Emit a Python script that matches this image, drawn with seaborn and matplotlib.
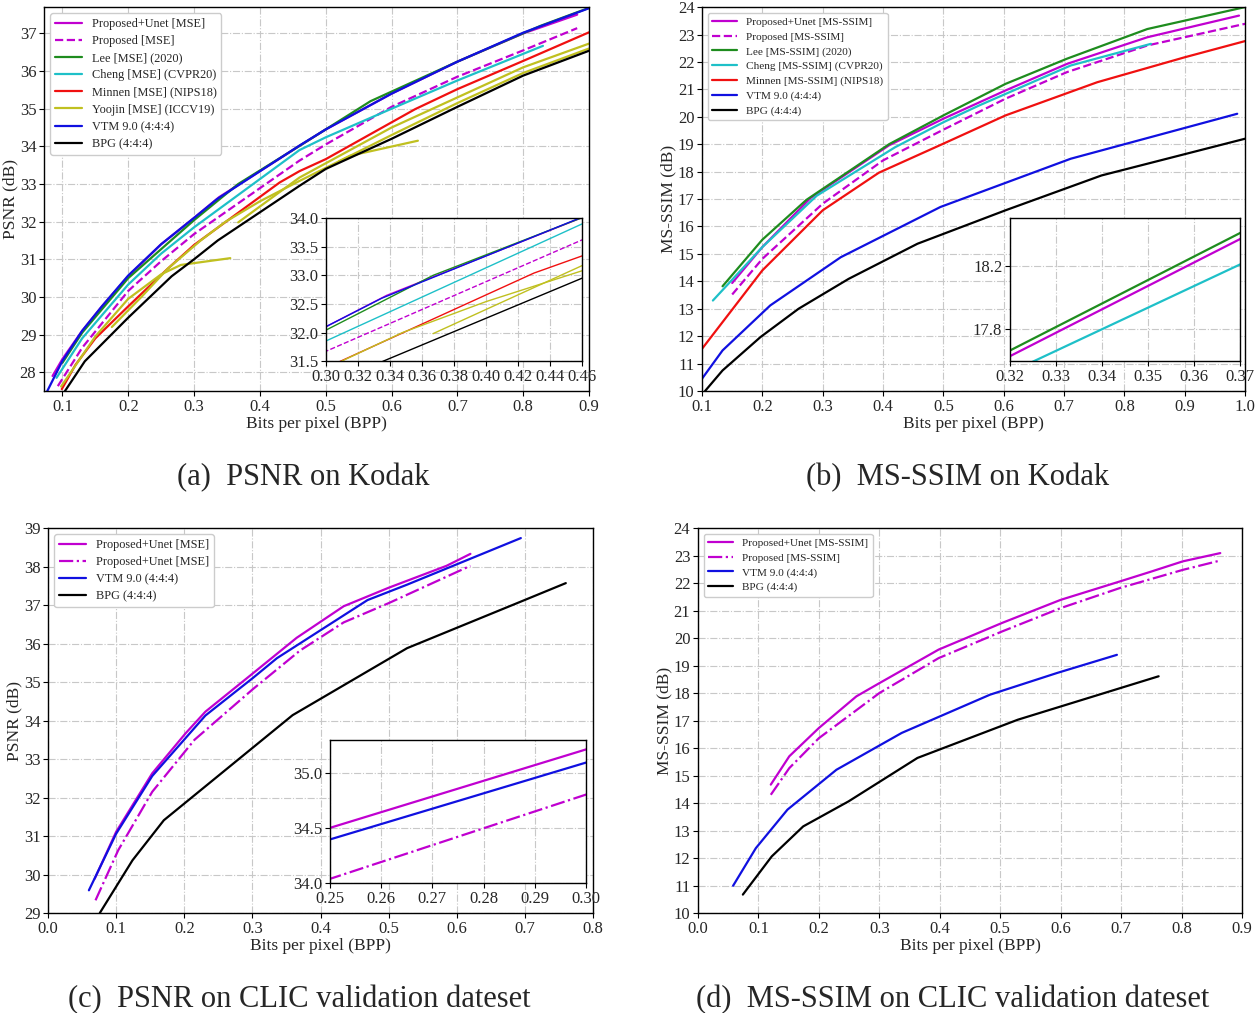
import numpy as np
import pandas as pd
import seaborn as sns
import matplotlib.pyplot as plt

# ---------- (a) PSNR on Kodak ----------
a_unet_x = [0.085, 0.1, 0.13, 0.16, 0.2, 0.25, 0.3, 0.338, 0.46, 0.5, 0.6, 0.7, 0.8, 0.882]
a_unet_y = [27.9, 28.35, 29.1, 29.75, 30.55, 31.4, 32.1, 32.65, 34.01, 34.45, 35.4, 36.25, 37.0, 37.5]
a_prop_x = [0.093, 0.13, 0.2, 0.25, 0.3, 0.46, 0.5, 0.6, 0.7, 0.8, 0.882]
a_prop_y = [27.63, 28.65, 30.16, 30.95, 31.67, 33.62, 34.05, 35.05, 35.85, 36.55, 37.14]
a_lee_x = [0.1, 0.13, 0.2, 0.3, 0.367, 0.46, 0.568, 0.7, 0.826, 0.9]
a_lee_y = [28.25, 29.05, 30.5, 32.04, 33.0, 34.01, 35.2, 36.25, 37.2, 37.68]
a_cheng_x = [0.091, 0.13, 0.2, 0.25, 0.3, 0.46, 0.5, 0.6, 0.7, 0.83]
a_cheng_y = [27.85, 28.9, 30.33, 31.15, 31.85, 33.9, 34.24, 35.0, 35.75, 36.67]
a_minnen_x = [0.099, 0.12, 0.15, 0.2, 0.26, 0.3, 0.43, 0.46, 0.5, 0.636, 0.7, 0.8, 0.9]
a_minnen_y = [27.55, 28.2, 28.9, 29.75, 30.75, 31.38, 33.04, 33.34, 33.66, 34.99, 35.52, 36.27, 37.03]
a_yoojin1_x = [0.098, 0.15, 0.2, 0.25, 0.28, 0.355]
a_yoojin1_y = [27.62, 28.95, 29.95, 30.6, 30.85, 31.03]
a_yoojin2_x = [0.175, 0.22, 0.26, 0.31, 0.348, 0.4, 0.46, 0.537, 0.64]
a_yoojin2_y = [29.2, 30.0, 30.75, 31.5, 32.0, 32.54, 33.08, 33.75, 34.15]
a_yoojin3_x = [0.367, 0.46, 0.6, 0.7, 0.8, 0.9]
a_yoojin3_y = [31.98, 33.17, 34.5, 35.3, 36.1, 36.73]
a_yoojin4_x = [0.52, 0.6, 0.7, 0.8, 0.9]
a_yoojin4_y = [33.6, 34.3, 35.15, 35.95, 36.6]
a_vtm_x = [0.077, 0.1, 0.13, 0.16, 0.2, 0.25, 0.3, 0.335, 0.46, 0.5, 0.6, 0.7, 0.8, 0.9]
a_vtm_y = [27.5, 28.3, 29.1, 29.75, 30.57, 31.4, 32.1, 32.6, 34.02, 34.45, 35.4, 36.25, 37.02, 37.67]
a_bpg_x = [0.1035, 0.134, 0.2, 0.266, 0.3, 0.336, 0.46, 0.5, 0.6, 0.7, 0.8, 0.9]
a_bpg_y = [27.49, 28.29, 29.45, 30.55, 31.0, 31.5, 32.95, 33.4, 34.2, 35.05, 35.88, 36.54]

# ---------- (b) MS-SSIM on Kodak ----------
b_unet_x = [0.15, 0.2, 0.28, 0.41, 0.5, 0.603, 0.705, 0.838, 0.99]
b_unet_y = [13.94, 15.25, 17.04, 18.96, 19.93, 20.96, 21.93, 22.9, 23.69]
b_prop_x = [0.15, 0.2, 0.3, 0.4, 0.5, 0.603, 0.705, 0.838, 1.0]
b_prop_y = [13.52, 14.82, 16.83, 18.41, 19.53, 20.66, 21.63, 22.6, 23.39]
b_lee_x = [0.134, 0.2, 0.273, 0.41, 0.5, 0.603, 0.705, 0.838, 1.0]
b_lee_y = [13.82, 15.52, 16.97, 19.0, 20.05, 21.2, 22.12, 23.2, 24.0]
b_cheng_x = [0.118, 0.2, 0.29, 0.42, 0.5, 0.559, 0.711, 0.844]
b_cheng_y = [13.3, 15.25, 17.12, 18.89, 19.8, 20.41, 21.87, 22.66]
b_minnen_x = [0.1, 0.2, 0.3, 0.393, 0.5, 0.603, 0.755, 0.9, 1.0]
b_minnen_y = [11.54, 14.4, 16.59, 17.96, 19.02, 20.05, 21.26, 22.17, 22.76]
b_vtm_x = [0.1, 0.134, 0.213, 0.33, 0.495, 0.711, 0.987]
b_vtm_y = [10.45, 11.48, 13.12, 14.88, 16.71, 18.47, 20.11]
b_bpg_x = [0.105, 0.134, 0.197, 0.26, 0.343, 0.457, 0.603, 0.762, 1.0]
b_bpg_y = [10.0, 10.75, 11.97, 13.0, 14.09, 15.37, 16.59, 17.86, 19.2]

# ---------- (c) PSNR on CLIC ----------
c_unet_x = [0.0685, 0.1, 0.153, 0.202, 0.231, 0.301, 0.365, 0.434, 0.5, 0.585, 0.62]
c_unet_y = [29.89, 31.11, 32.63, 33.67, 34.23, 35.23, 36.15, 36.97, 37.45, 38.02, 38.33]
c_prop_x = [0.0697, 0.103, 0.153, 0.215, 0.301, 0.37, 0.434, 0.5, 0.62]
c_prop_y = [29.33, 30.63, 32.15, 33.5, 34.82, 35.82, 36.55, 37.05, 38.02]
c_vtm_x = [0.06, 0.1, 0.153, 0.231, 0.301, 0.336, 0.469, 0.527, 0.694]
c_vtm_y = [29.59, 31.06, 32.56, 34.13, 35.11, 35.62, 37.13, 37.53, 38.74]
c_bpg_x = [0.076, 0.124, 0.17, 0.359, 0.527, 0.694, 0.76]
c_bpg_y = [29.0, 30.37, 31.41, 34.14, 35.88, 37.09, 37.57]

# ---------- (d) MS-SSIM on CLIC ----------
d_unet_x = [0.1204, 0.151, 0.2, 0.262, 0.3, 0.398, 0.503, 0.6, 0.698, 0.75, 0.802, 0.864]
d_unet_y = [14.67, 15.7, 16.73, 17.88, 18.36, 19.58, 20.55, 21.39, 22.06, 22.42, 22.79, 23.09]
d_prop_x = [0.1204, 0.151, 0.2, 0.3, 0.398, 0.503, 0.6, 0.698, 0.802, 0.864]
d_prop_y = [14.3, 15.27, 16.36, 18.0, 19.27, 20.24, 21.09, 21.82, 22.48, 22.82]
d_vtm_x = [0.058, 0.0957, 0.148, 0.229, 0.337, 0.483, 0.594, 0.693]
d_vtm_y = [10.99, 12.36, 13.76, 15.21, 16.55, 17.94, 18.73, 19.39]
d_bpg_x = [0.0742, 0.122, 0.174, 0.249, 0.363, 0.529, 0.762]
d_bpg_y = [10.67, 12.06, 13.15, 14.06, 15.64, 17.03, 18.61]

sns.set_theme(style="white")
plt.rcParams["font.family"] = ["Liberation Serif", "DejaVu Serif"]

fig = plt.figure(figsize=(12.57, 10.13), dpi=100)
ax_a = fig.add_axes([0.035, 0.614, 0.4336, 0.379])
ax_b = fig.add_axes([0.5585, 0.614, 0.432, 0.379])
ax_c = fig.add_axes([0.0382, 0.0987, 0.4336, 0.380])
ax_d = fig.add_axes([0.5553, 0.0987, 0.4328, 0.380])

MAG = "#c000d0"
GRN = "#1e8c1e"
CYN = "#1ec0c8"
RED = "#f01010"
YEL = "#c0c020"
BLU = "#1010e0"


def style_axis(ax, tick_size=12):
    ax.grid(True, linestyle="-.", color="#c8c8c8", linewidth=0.8)
    ax.set_axisbelow(True)
    for s in ax.spines.values():
        s.set_color("black")
        s.set_linewidth(1.0)
        s.set_visible(True)
    ax.tick_params(direction="out", length=3.5, width=0.8, color="black",
                   labelsize=tick_size, left=True, bottom=True, pad=2)


def draw(ax, x, y, color, ls="-", lw=1.5, label=None):
    df = pd.DataFrame({"bpp": x, "val": y})
    sns.lineplot(data=df, x="bpp", y="val", ax=ax, color=color, linestyle=ls,
                 linewidth=lw, label=label, sort=False, estimator=None, legend=False)


def finish(ax, ylabel, xlim, ylim, xticks, yticks):
    ax.set_xlim(*xlim)
    ax.set_ylim(*ylim)
    ax.set_xticks(xticks)
    ax.set_yticks(yticks)
    ax.set_xlabel("Bits per pixel (BPP)", fontsize=12.5, labelpad=1)
    ax.set_ylabel(ylabel, fontsize=12.5, labelpad=1)
    style_axis(ax)


def legend(ax, size=8):
    ax.legend(loc="upper left", fontsize=size, handlelength=2.2, labelspacing=0.42,
              frameon=True, fancybox=True, edgecolor="#cccccc", framealpha=1.0,
              borderaxespad=0.5)


def inset_ticks(ax, xt, yt, xfmt, yfmt):
    ax.set_xticks(xt)
    ax.set_yticks(yt)
    ax.set_xticklabels([xfmt.format(v) for v in xt])
    ax.set_yticklabels([yfmt.format(v) for v in yt])
    ax.set_xlabel("")
    ax.set_ylabel("")
    ax.set_facecolor("white")
    style_axis(ax, 12)


# ---- (a)
def series_a(ax, lw, labels=True):
    L = (lambda s: s) if labels else (lambda s: None)
    draw(ax, a_unet_x, a_unet_y, MAG, "-", lw, L("Proposed+Unet [MSE]"))
    draw(ax, a_prop_x, a_prop_y, MAG, "--", lw, L("Proposed [MSE]"))
    draw(ax, a_lee_x, a_lee_y, GRN, "-", lw, L("Lee [MSE] (2020)"))
    draw(ax, a_cheng_x, a_cheng_y, CYN, "-", lw, L("Cheng [MSE] (CVPR20)"))
    draw(ax, a_minnen_x, a_minnen_y, RED, "-", lw, L("Minnen [MSE] (NIPS18)"))
    draw(ax, a_yoojin1_x, a_yoojin1_y, YEL, "-", lw, L("Yoojin [MSE] (ICCV19)"))
    draw(ax, a_yoojin2_x, a_yoojin2_y, YEL, "-", lw)
    draw(ax, a_yoojin3_x, a_yoojin3_y, YEL, "-", lw)
    draw(ax, a_yoojin4_x, a_yoojin4_y, YEL, "-", lw)
    draw(ax, a_vtm_x, a_vtm_y, BLU, "-", lw, L("VTM 9.0 (4:4:4)"))
    draw(ax, a_bpg_x, a_bpg_y, "black", "-", lw, L("BPG (4:4:4)"))


series_a(ax_a, 1.6)
finish(ax_a, "PSNR (dB)", (0.072, 0.9), (27.5, 37.7),
       np.arange(0.1, 0.91, 0.1), np.arange(28, 38, 1))
ax_a.set_xticklabels([f"{v:.1f}" for v in np.arange(0.1, 0.91, 0.1)])
legend(ax_a, 8.8)
ins_a = ax_a.inset_axes([0.517, 0.078, 0.470, 0.372])
series_a(ins_a, 1.0, labels=False)
ins_a.set_xlim(0.30, 0.46)
ins_a.set_ylim(31.5, 34.0)
inset_ticks(ins_a, np.arange(0.30, 0.461, 0.02), np.arange(31.5, 34.01, 0.5), "{:.2f}", "{:.1f}")

# ---- (b)
def series_b(ax, lw, labels=True, inset=False):
    L = (lambda s: s) if labels else (lambda s: None)
    draw(ax, b_unet_x, b_unet_y, MAG, "-", lw, L("Proposed+Unet [MS-SSIM]"))
    if not inset:
        draw(ax, b_prop_x, b_prop_y, MAG, "--", lw, L("Proposed [MS-SSIM]"))
    draw(ax, b_lee_x, b_lee_y, GRN, "-", lw, L("Lee [MS-SSIM] (2020)"))
    draw(ax, b_cheng_x, b_cheng_y, CYN, "-", lw, L("Cheng [MS-SSIM] (CVPR20)"))
    if not inset:
        draw(ax, b_minnen_x, b_minnen_y, RED, "-", lw, L("Minnen [MS-SSIM] (NIPS18)"))
        draw(ax, b_vtm_x, b_vtm_y, BLU, "-", lw, L("VTM 9.0 (4:4:4)"))
        draw(ax, b_bpg_x, b_bpg_y, "black", "-", lw, L("BPG (4:4:4)"))


series_b(ax_b, 1.6)
finish(ax_b, "MS-SSIM (dB)", (0.1, 1.0), (10, 24),
       np.arange(0.1, 1.01, 0.1), np.arange(10, 25, 1))
ax_b.set_xticklabels([f"{v:.1f}" for v in np.arange(0.1, 1.01, 0.1)])
legend(ax_b, 8.1)
ins_b = ax_b.inset_axes([0.567, 0.078, 0.424, 0.372])
series_b(ins_b, 1.6, labels=False, inset=True)
ins_b.set_xlim(0.32, 0.37)
ins_b.set_ylim(17.6, 18.5)
inset_ticks(ins_b, np.arange(0.32, 0.371, 0.01), [17.8, 18.2], "{:.2f}", "{:.1f}")

# ---- (c)
def series_c(ax, lw, labels=True):
    L = (lambda s: s) if labels else (lambda s: None)
    draw(ax, c_unet_x, c_unet_y, MAG, "-", lw, L("Proposed+Unet [MSE]"))
    draw(ax, c_prop_x, c_prop_y, MAG, "-.", lw, L("Proposed+Unet [MSE]"))
    draw(ax, c_vtm_x, c_vtm_y, BLU, "-", lw, L("VTM 9.0 (4:4:4)"))
    draw(ax, c_bpg_x, c_bpg_y, "black", "-", lw, L("BPG (4:4:4)"))


series_c(ax_c, 1.6)
finish(ax_c, "PSNR (dB)", (0.0, 0.8), (29, 39),
       np.arange(0.0, 0.81, 0.1), np.arange(29, 40, 1))
ax_c.set_xticklabels([f"{v:.1f}" for v in np.arange(0.0, 0.81, 0.1)])
legend(ax_c, 8.8)
ins_c = ax_c.inset_axes([0.517, 0.078, 0.470, 0.371])
series_c(ins_c, 1.6, labels=False)
ins_c.set_xlim(0.25, 0.30)
ins_c.set_ylim(34.0, 35.3)
inset_ticks(ins_c, np.arange(0.25, 0.301, 0.01), [34.0, 34.5, 35.0], "{:.2f}", "{:.1f}")

# ---- (d)
draw(ax_d, d_unet_x, d_unet_y, MAG, "-", 1.6, "Proposed+Unet [MS-SSIM]")
draw(ax_d, d_prop_x, d_prop_y, MAG, "-.", 1.6, "Proposed [MS-SSIM]")
draw(ax_d, d_vtm_x, d_vtm_y, BLU, "-", 1.6, "VTM 9.0 (4:4:4)")
draw(ax_d, d_bpg_x, d_bpg_y, "black", "-", 1.6, "BPG (4:4:4)")
finish(ax_d, "MS-SSIM (dB)", (0.0, 0.9), (10, 24),
       np.arange(0.0, 0.91, 0.1), np.arange(10, 25, 1))
ax_d.set_xticklabels([f"{v:.1f}" for v in np.arange(0.0, 0.91, 0.1)])
legend(ax_d, 8.1)

# captions
fig.text(0.241, 0.529, "(a)  PSNR on Kodak", ha="center", va="center", fontsize=22)
fig.text(0.762, 0.529, "(b)  MS-SSIM on Kodak", ha="center", va="center", fontsize=22)
fig.text(0.238, 0.0135, "(c)  PSNR on CLIC validation dateset", ha="center", va="center", fontsize=22)
fig.text(0.758, 0.0135, "(d)  MS-SSIM on CLIC validation dateset", ha="center", va="center", fontsize=22)

fig.savefig("out.png", dpi=100)
